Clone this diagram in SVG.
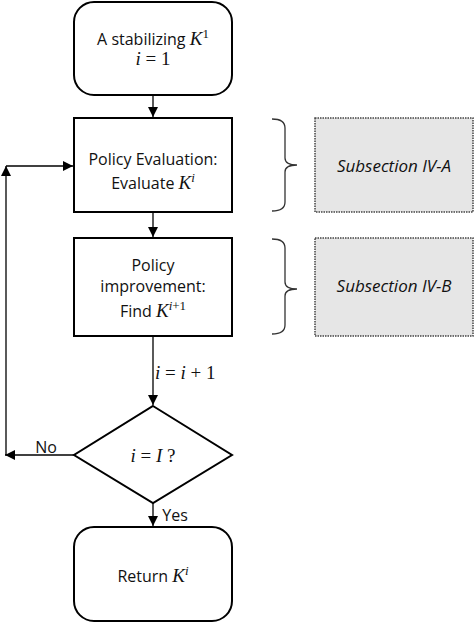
<svg xmlns="http://www.w3.org/2000/svg" width="474" height="623" viewBox="0 0 474 623">
<defs>
<marker id="ah" viewBox="0 0 10 10" refX="10" refY="5" markerWidth="10" markerHeight="10" markerUnits="userSpaceOnUse" orient="auto">
<path d="M0,0 L10,5 L0,10 z" fill="#000"/>
</marker>
<style>
.box{fill:#fff;stroke:#000;stroke-width:2}
.sub{fill:#e6e6e6;stroke:#444;stroke-width:1.5;stroke-dasharray:1.5 1}
.ln{fill:none;stroke:#000;stroke-width:1.3}
.br{fill:none;stroke:#333;stroke-width:1.3}
.t{font-family:"Open Sans","Liberation Sans",sans-serif;font-size:16px;fill:#111;text-anchor:middle}
.m{font-family:"Liberation Serif","DejaVu Serif",serif;font-style:italic;font-size:19px}
.n{font-family:"Liberation Serif","DejaVu Serif",serif;font-size:19px;font-style:normal}
.sp{font-size:13px}
.s{font-family:"Open Sans","Liberation Sans",sans-serif;font-style:italic;font-size:17px;fill:#111;text-anchor:middle}
</style>
</defs>
<g id="connectors">
<line class="ln" x1="153" y1="95" x2="153" y2="117" marker-end="url(#ah)"/>
<line class="ln" x1="153" y1="212" x2="153" y2="237" marker-end="url(#ah)"/>
<line class="ln" x1="153" y1="336" x2="153" y2="405" marker-end="url(#ah)"/>
<line class="ln" x1="153" y1="503" x2="153" y2="526" marker-end="url(#ah)"/>
<line class="ln" x1="74" y1="455" x2="5" y2="455" marker-end="url(#ah)"/>
<line class="ln" x1="6" y1="455" x2="6" y2="166" marker-end="url(#ah)"/>
<line class="ln" x1="6" y1="166" x2="73" y2="166" marker-end="url(#ah)"/>
<text class="t" x="155" y="379" style="text-anchor:start"><tspan class="m">i</tspan><tspan class="n"> = </tspan><tspan class="m">i</tspan><tspan class="n"> + 1</tspan></text>
<text class="t" x="46" y="453">No</text>
<text class="t" x="175" y="521">Yes</text>
</g>
<g id="start">
<rect class="box" x="74" y="2" width="158" height="93" rx="20"/>
<text class="t" x="153" y="45">A stabilizing <tspan class="m">K</tspan><tspan class="n sp" baseline-shift="7">1</tspan></text>
<text class="t" x="153" y="65"><tspan class="m">i</tspan><tspan class="n"> = 1</tspan></text>
</g>
<g id="evaluation">
<rect class="box" x="74" y="118" width="158" height="94"/>
<text class="t" x="153" y="165">Policy Evaluation:</text>
<text class="t" x="153" y="189">Evaluate <tspan class="m">K</tspan><tspan class="m sp" baseline-shift="7">i</tspan></text>
</g>
<g id="improvement">
<rect class="box" x="74" y="238" width="158" height="98"/>
<text class="t" x="153" y="271">Policy</text>
<text class="t" x="153" y="292">improvement:</text>
<text class="t" x="153" y="317">Find <tspan class="m">K</tspan><tspan class="m sp" baseline-shift="7">i</tspan><tspan class="n sp" baseline-shift="7">+1</tspan></text>
</g>
<g id="decision">
<polygon class="box" points="153,406 232,455 153,503 74,455"/>
<text class="t" x="153" y="462"><tspan class="m">i</tspan><tspan class="n"> = </tspan><tspan class="m">I</tspan><tspan class="n"> ?</tspan></text>
</g>
<g id="return">
<rect class="box" x="74" y="527" width="158" height="94" rx="20"/>
<text class="t" x="153" y="582">Return <tspan class="m">K</tspan><tspan class="m sp" baseline-shift="7">i</tspan></text>
</g>
<g id="bracketA">
<path class="br" d="M272,119 Q285,119 285,128 L285,158 Q285,165 297,165 Q285,165 285,172 L285,202 Q285,211 272,211"/>
</g>
<g id="subA">
<rect class="sub" x="315" y="118" width="158" height="94"/>
<text class="s" x="394" y="172">Subsection IV-A</text>
</g>
<g id="bracketB">
<path class="br" d="M272,239 Q285,239 285,248 L285,282 Q285,289 297,289 Q285,289 285,296 L285,325 Q285,334 272,334"/>
</g>
<g id="subB">
<rect class="sub" x="315" y="238" width="158" height="98"/>
<text class="s" x="394" y="292">Subsection IV-B</text>
</g>
</svg>
